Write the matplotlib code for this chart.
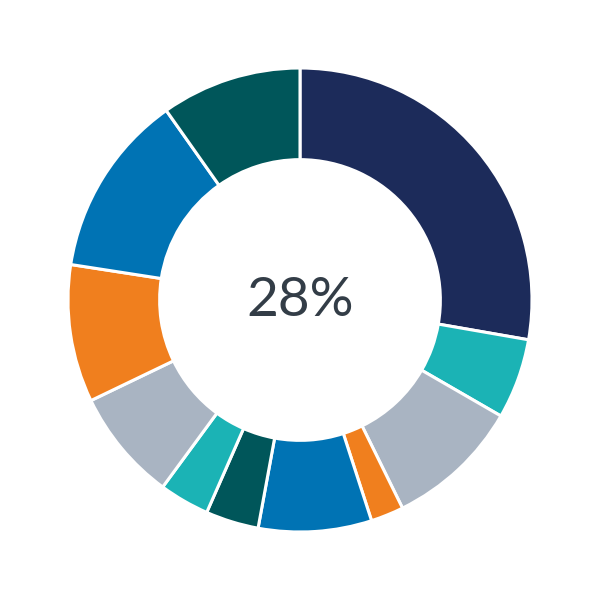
import matplotlib
matplotlib.use("Agg")
from matplotlib import pyplot as plt

# slice shares, clockwise from 12 o'clock (percent)
values = [27.8, 5.6, 9.4, 2.3, 7.9, 3.7, 3.5, 7.8, 9.6, 12.8, 9.8]
colors = ['#1c2b5a', '#1bb3b5', '#a9b4c2', '#f07f1e', '#0073b4', '#00565a',
	'#1bb3b5', '#a9b4c2', '#f07f1e', '#0073b4', '#00565a']
center_label = '28%'

fig = plt.figure(figsize=(6, 6), dpi=100)
ax = fig.add_axes([0, 0, 1, 1])
ax.pie(values, colors=colors, startangle=90, counterclock=False, radius=1.0,
	wedgeprops=dict(width=0.395, edgecolor='white', linewidth=2.2))
ax.text(0, 0, center_label, ha='center', va='center', fontsize=39.5,
	color='#333d47', family=['Lato', 'DejaVu Sans'])
lim = 300 / 232
ax.set_xlim(-lim, lim)
ax.set_ylim(-lim, lim)
ax.set_aspect('equal')
ax.axis('off')
fig.savefig('out.png', dpi=100, facecolor='white')
